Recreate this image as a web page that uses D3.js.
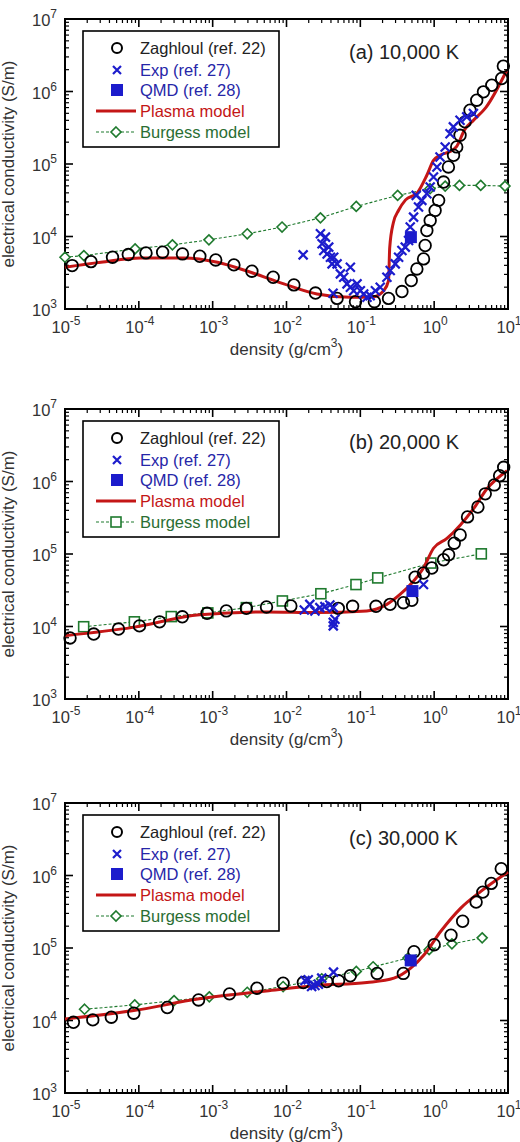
<!DOCTYPE html>
<html><head><meta charset="utf-8">
<script src="https://cdn.jsdelivr.net/npm/d3@7"></script>
<style>body{margin:0;background:#fff}svg{font-family:"Liberation Sans",Arial,sans-serif}</style>
</head><body><svg id="c" width="520" height="1142"></svg>
<script>
const panelLabels=["(a) 10,000 K","(b) 20,000 K","(c) 30,000 K"];
const burgessSymbols=["diamond","square","diamond"];
const xTickExps=[-5,-4,-3,-2,-1,0,1];
const yTickExps=[3,4,5,6,7];

const zaghloul=[
[[1.25e-5,3970],[2.25e-5,4500],[4.4e-5,5180],[7.2e-5,5640],[1.25e-4,5940],[2.1e-4,6070],[3.9e-4,5750],[6.7e-4,5340],[1.1e-3,4750],[1.94e-3,4060],[3.4e-3,3320],[6.6e-3,2740],[1.26e-2,2150],[2.47e-2,1660],[4.84e-2,1400],[8.6e-2,1260],[0.155,1260],[0.241,1400],[0.366,1740],[0.489,2470],[0.583,3570],[0.718,4910],[0.755,7510],[0.796,12100],[0.883,16600],[1.03,22900],[1.15,31500],[1.34,56400],[1.56,91000],[1.83,132000],[2.02,172000],[2.24,249000],[2.62,381000],[3.06,552000],[3.77,759000],[4.65,989000],[6.03,1.22e6],[8.2,1.51e6],[8.65,2.24e6]],
[[1.17e-5,6950],[2.45e-5,7870],[5.3e-5,9220],[1.02e-4,10200],[1.91e-4,11600],[3.88e-4,13600],[8.4e-4,15200],[1.53e-3,16400],[2.86e-3,17800],[5.36e-3,18600],[0.01145,19200],[0.0503,17800],[0.0786,19000],[0.163,19000],[0.253,20200],[0.384,21300],[0.498,23000],[0.552,47800],[0.716,54700],[0.929,64100],[1.34,83300],[1.57,97500],[1.87,141000],[2.25,183000],[2.83,325000],[3.91,445000],[4.92,676000],[6.52,897000],[7.7,1.2e6],[8.74,1.57e6]],
[[1.3e-5,9440],[2.38e-5,10200],[4.24e-5,11100],[8.55e-5,12600],[2.43e-4,15100],[6.44e-4,19200],[1.69e-3,23300],[3.98e-3,27900],[9.0e-3,32700],[0.0169,33400],[0.0351,34500],[0.0507,35300],[0.0731,41400],[0.169,44600],[0.382,44600],[0.533,88900],[1.0,111000],[1.69,150000],[2.43,234000],[3.7,430000],[4.56,590000],[5.93,778000],[8.1,1.24e6]]
];
const expData=[
[[0.0168,5580],[0.0288,10900],[0.0303,7920],[0.032,6400],[0.0337,9800],[0.0355,5750],[0.0373,7130],[0.0394,5180],[0.0414,4190],[0.0436,5180],[0.0484,4190],[0.0537,3050],[0.0596,2740],[0.066,2220],[0.0733,3770],[0.0733,2000],[0.0813,1790],[0.0902,2220],[0.1,1790],[0.111,1610],[0.123,1450],[0.136,1530],[0.16,1790],[0.186,2000],[0.229,2740],[0.254,3390],[0.297,4190],[0.33,5180],[0.366,6400],[0.406,7130],[0.45,8810],[0.474,13500],[0.526,18500],[0.571,36900],[0.614,25500],[0.681,31500],[0.796,38900],[0.883,48100],[0.98,66100],[1.09,91000],[1.2,125000],[1.41,172000],[1.64,262000],[1.82,325000],[2.24,402000],[2.76,447000],[3.4,497000],[0.0427,1650]],
[[0.0174,16900],[0.0207,20200],[0.0243,16400],[0.0283,18200],[0.0331,18800],[0.0387,19800],[0.043,18200],[0.043,11400],[0.0453,12600],[0.043,10200],[0.716,37900]],
[[0.0178,35600],[0.0197,36500],[0.0219,29400],[0.0243,30400],[0.027,31700],[0.03,38400],[0.0433,46500]]
];
const qmd=[[[0.484,9800]],[[0.508,30800]],[[0.481,67400]]];
const plasma=[
[[1e-5,3770],[3.06e-5,4420],[1.06e-4,5070],[4.1e-4,5070],[1.16e-3,4420],[3.27e-3,3210],[9.2e-3,2220],[0.0259,1610],[0.0733,1450],[0.151,1480],[0.207,1790],[0.241,2470],[0.25,7000],[0.28,15500],[0.33,23000],[0.41,32000],[0.59,40000],[0.796,70000],[0.98,112000],[1.2,132000],[1.62,148000],[2.02,175000],[2.6,300000],[3.4,400000],[5.0,600000],[9.6,1.95e6]],
[[1e-5,7480],[8.3e-5,9730],[6.67e-4,14500],[5.36e-3,15900],[0.0255,15600],[0.122,16400],[0.228,20200],[0.345,27700],[0.524,42200],[0.716,64100],[0.98,120000],[1.49,164000],[2.25,250000],[3.42,423000],[5.19,793000],[9.7,1.41e6]],
[[1e-5,10500],[8.1e-5,13600],[6.58e-4,19900],[5.33e-3,25600],[0.0256,30400],[0.123,33400],[0.285,38400],[0.481,52800],[0.731,80900],[1.23,170000],[2.31,358000],[4.33,610000],[10,1.12e6]]
];
const burgess=[
[[1e-5,5180],[1.8e-5,5450],[8.9e-5,6750],[2.85e-4,7670],[8.9e-4,9000],[2.94e-3,10900],[8.7e-3,13500],[0.0288,18100],[0.088,26000],[0.32,36900],[0.88,45600],[1.41,49600],[2.2,50700],[4.27,50700],[9.1,49600]],
[[1.79e-5,9930],[8.7e-5,11600],[2.75e-4,13700],[8.6e-4,15400],[2.86e-3,18200],[8.8e-3,22500],[0.0292,28300],[0.0873,37900],[0.172,46800],[0.902,75000],[4.35,100500]],
[[1.84e-5,14300],[8.8e-5,16400],[3.0e-4,18800],[9.0e-4,21200],[2.94e-3,24500],[9.0e-3,29400],[0.03,37600],[0.0881,47500],[0.149,55100],[0.442,72600],[0.855,94800],[1.74,114000],[4.47,138000]]
];
const legendLabels=["Zaghloul (ref. 22)","Exp (ref. 27)","QMD (ref. 28)","Plasma model","Burgess model"];

const C={black:"#000",blue:"#1c1ccc",blueT:"#2626a8",red:"#c41616",green:"#1f7a2e",greenT:"#2a6e33"};
const svg=d3.select("#c");
const tops=[19,409,803], L=65, W=443, H=290;

function supLabel(g,base,exp,x,y,anchor){
  const t=g.append("text").attr("x",x).attr("y",y).attr("font-size",16.5).attr("fill","#333").attr("text-anchor",anchor||"middle");
  t.append("tspan").text(base);
  t.append("tspan").attr("dy",-8).attr("font-size",12).text(exp);
}
function diamond(g,x,y,col){g.append("path").attr("d",`M${x},${y-5}L${x+5},${y}L${x},${y+5}L${x-5},${y}Z`).attr("fill","#fff").attr("stroke",col).attr("stroke-width",1.6);}
function square(g,x,y,col){g.append("rect").attr("x",x-5).attr("y",y-5).attr("width",10).attr("height",10).attr("fill","#fff").attr("stroke",col).attr("stroke-width",1.6);}
function cross(g,x,y,col,s){s=s||4.5;g.append("path").attr("d",`M${x-s},${y-s}L${x+s},${y+s}M${x-s},${y+s}L${x+s},${y-s}`).attr("stroke",col).attr("stroke-width",2.2);}

for(let p=0;p<3;p++){
  const g=svg.append("g").attr("transform",`translate(${L},${tops[p]})`);
  const x=d3.scaleLog().domain([1e-5,10]).range([0,W]);
  const y=d3.scaleLog().domain([1e3,1e7]).range([H,0]);
  const sym=burgessSymbols[p];
  const tk=g.append("g").attr("stroke","#000");
  const xt=x.ticks(), yt=y.ticks();
  xt.forEach(v=>{const major=Math.abs(Math.log10(v)-Math.round(Math.log10(v)))<1e-9;const l=major?8:4;
    tk.append("line").attr("x1",x(v)).attr("x2",x(v)).attr("y1",H).attr("y2",H-l).attr("stroke-width",major?1.6:1.2);
    tk.append("line").attr("x1",x(v)).attr("x2",x(v)).attr("y1",0).attr("y2",l).attr("stroke-width",major?1.6:1.2);});
  yt.forEach(v=>{const major=Math.abs(Math.log10(v)-Math.round(Math.log10(v)))<1e-9;const l=major?8:4;
    tk.append("line").attr("y1",y(v)).attr("y2",y(v)).attr("x1",0).attr("x2",l).attr("stroke-width",major?1.6:1.2);
    tk.append("line").attr("y1",y(v)).attr("y2",y(v)).attr("x1",W).attr("x2",W-l).attr("stroke-width",major?1.6:1.2);});
  g.append("rect").attr("width",W).attr("height",H).attr("fill","none").attr("stroke","#000").attr("stroke-width",2);
  xTickExps.forEach(e=>supLabel(g,"10",String(e),x(Math.pow(10,e))+1,H+24));
  yTickExps.forEach(e=>supLabel(g,"10",String(e),-8,y(Math.pow(10,e))+7,"end"));
  g.append("text").attr("x",W/2).attr("y",H+46).attr("text-anchor","middle").attr("font-size",17).attr("fill","#333")
    .call(t=>{t.append("tspan").text("density (g/cm");t.append("tspan").attr("dy",-8).attr("font-size",12).text("3");t.append("tspan").attr("dy",8).text(")");});
  g.append("text").attr("transform",`translate(${-51},${H/2}) rotate(-90)`).attr("text-anchor","middle").attr("font-size",17).attr("fill","#333").text("electrical conductivity (S/m)");
  const pg=g.append("g");
  pg.append("path").datum(burgess[p]).attr("d",d3.line().x(d=>x(d[0])).y(d=>y(d[1]))).attr("fill","none").attr("stroke",C.green).attr("stroke-width",1.1).attr("stroke-dasharray","3,2");
  burgess[p].forEach(d=>sym==="diamond"?diamond(pg,x(d[0]),y(d[1]),C.green):square(pg,x(d[0]),y(d[1]),C.green));
  pg.append("path").datum(plasma[p]).attr("d",d3.line().curve(d3.curveMonotoneX).x(d=>x(d[0])).y(d=>y(d[1]))).attr("fill","none").attr("stroke",C.red).attr("stroke-width",3);
  zaghloul[p].forEach(d=>pg.append("circle").attr("cx",x(d[0])).attr("cy",y(d[1])).attr("r",5.8).attr("fill","none").attr("stroke","#000").attr("stroke-width",1.8));
  expData[p].forEach(d=>cross(pg,x(d[0]),y(d[1]),C.blue));
  qmd[p].forEach(d=>pg.append("rect").attr("x",x(d[0])-6).attr("y",y(d[1])-6).attr("width",12).attr("height",12).attr("fill",C.blue));
  const lg=g.append("g").attr("transform","translate(18,12)");
  lg.append("rect").attr("width",196).attr("height",116).attr("fill","#fff").attr("stroke","#000").attr("stroke-width",1.6);
  const rows=[17,39,59,80,101], cols=["#222",C.blueT,C.blueT,C.red,C.greenT];
  rows.forEach((ry,i)=>lg.append("text").attr("x",57).attr("y",ry+6).attr("font-size",16.5).attr("fill",cols[i]).text(legendLabels[i]));
  lg.append("circle").attr("cx",34).attr("cy",rows[0]).attr("r",5).attr("fill","none").attr("stroke","#000").attr("stroke-width",2);
  cross(lg,34,rows[1],C.blue,4);
  lg.append("rect").attr("x",28).attr("y",rows[2]-6).attr("width",12).attr("height",12).attr("fill",C.blue);
  lg.append("line").attr("x1",13).attr("x2",53).attr("y1",rows[3]).attr("y2",rows[3]).attr("stroke",C.red).attr("stroke-width",3);
  lg.append("line").attr("x1",13).attr("x2",53).attr("y1",rows[4]).attr("y2",rows[4]).attr("stroke",C.green).attr("stroke-width",1.1).attr("stroke-dasharray","3,2");
  sym==="diamond"?diamond(lg,33,rows[4],C.green):square(lg,33,rows[4],C.green);
  g.append("text").attr("x",284).attr("y",p===2?42:40).attr("font-size",20).attr("fill","#222").text(panelLabels[p]);
}
</script></body></html>
